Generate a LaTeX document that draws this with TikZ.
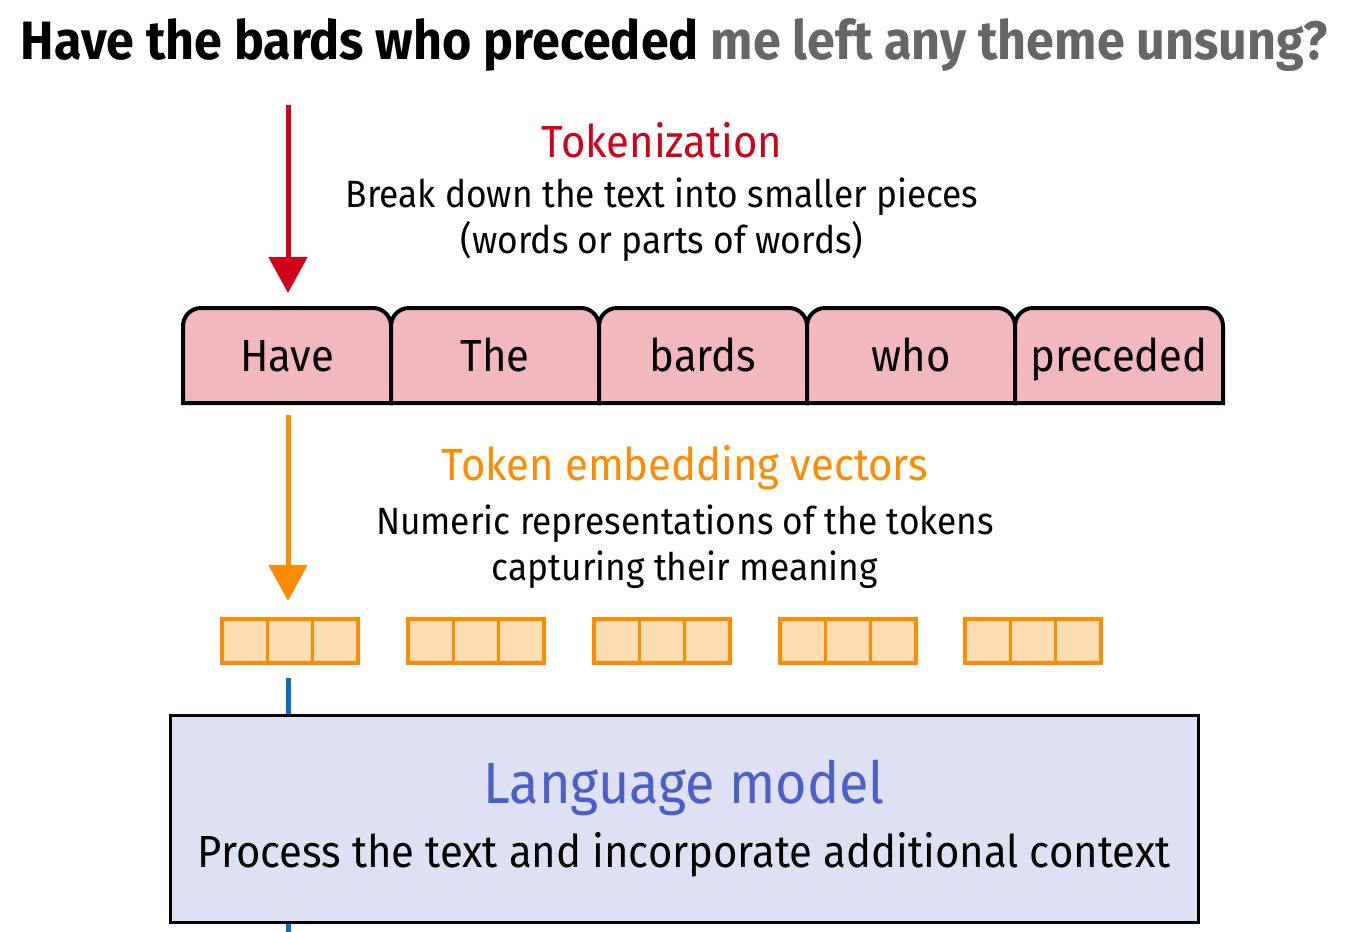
\documentclass[tikz,border=0pt]{standalone}
\usepackage{fontspec}
\setmainfont[FakeStretch=0.93]{Fira Sans}
\usetikzlibrary{arrows.meta}
\definecolor{tred}{HTML}{D0021B}
\definecolor{torange}{HTML}{FF8C00}
\definecolor{tabfill}{HTML}{F2B8BE}
\definecolor{vecfill}{HTML}{FFDDB3}
\definecolor{lmfill}{HTML}{DDE1F3}
\definecolor{lmblue}{HTML}{4A5FC7}
\definecolor{lineblue}{HTML}{0A6FC2}
\definecolor{tgray}{HTML}{666666}
\tikzset{
  tabbox/.style={draw=black,line width=4pt,fill=tabfill,rounded corners=18pt},
  tabtxt/.style={font=\fontsize{45}{48}\selectfont,anchor=base},
  vcell/.style={draw=torange,line width=3.5pt,fill=vecfill,minimum width=45.3pt,minimum height=44pt,inner sep=0pt},
  desc/.style={font=\fontsize{38}{46}\selectfont,align=center},
  arr/.style={line width=5pt,-{Triangle[width=38pt,length=36pt]}},
}
\begin{document}
\begin{tikzpicture}[x=1pt,y=-1pt]
\useasboundingbox (0,0) rectangle (1358,932);
\fill[white] (0,0) rectangle (1358,932);
\node[font=\fontsize{54}{58}\selectfont\bfseries,anchor=center] (title) at (674,45) {Have the bards who preceded \textcolor{tgray}{me left any theme unsung?}};
\coordinate (a1s) at (288,105);
\coordinate (a1e) at (288,293);
\draw[arr,tred] (a1s) -- (a1e);
\node[font=\fontsize{45}{48}\selectfont,text=tred] (tok) at (662,140) {Tokenization};
\node[desc] (tokd) at (662,220) {Break down the text into smaller pieces\\(words or parts of words)};
\foreach \i/\w in {0/Have,1/The,2/bards,3/who,4/preceded}{
  \pgfmathsetmacro\xa{183+208*\i}
  \draw[tabbox] (\xa,403) -- (\xa,308) -- (\xa+208,308) [sharp corners]-- (\xa+208,403) -- cycle;
  \node[tabtxt] (t\i) at (\xa+104,371) {\w};
}
\draw[line width=4pt,line cap=rect] (183,403) -- (1223,403);
\coordinate (a2s) at (288,415);
\coordinate (a2e) at (288,601);
\draw[arr,torange] (a2s) -- (a2e);
\node[font=\fontsize{45}{48}\selectfont,text=torange] (emb) at (685,468) {Token embedding vectors};
\node[desc] (embd) at (685,547) {Numeric representations of the tokens\\capturing their meaning};
\foreach \g/\x in {0/222,1/408,2/594,3/780,4/965}{
  \foreach \c in {0,1,2}{
    \node[vcell] (v\g\c) at (\x+22.7+45.3*\c,641) {};
  }
}
\node[draw=black,line width=3pt,fill=lmfill,minimum width=1028pt,minimum height=207pt,inner sep=0pt] (lm) at (684,818.5) {};
\coordinate (b1) at (288,678);
\draw[lineblue,line width=5pt] (b1) -- (lm.north -| b1);
\coordinate (b2) at (288,932);
\draw[lineblue,line width=5pt] (lm.south -| b2) -- (b2);
\node[font=\fontsize{58}{60}\selectfont,text=lmblue] (lmt) at (684,788) {Language model};
\node[font=\fontsize{45}{48}\selectfont] (lmd) at (684,855) {Process the text and incorporate additional context};
\end{tikzpicture}
\end{document}
